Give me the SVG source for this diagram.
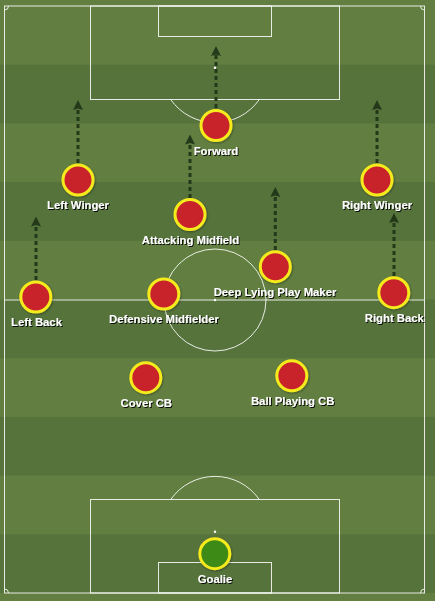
<svg xmlns="http://www.w3.org/2000/svg" width="435" height="601" viewBox="0 0 435 601">
<defs>
<style>
.light{fill:#627f41}
.dark{fill:#56733c}
.ln{fill:none;stroke:#ffffff;stroke-opacity:0.85;stroke-width:1}
.arr{stroke:#24381a;stroke-width:3;stroke-dasharray:4 3;fill:none;marker-end:url(#ah)}
.pl{fill:#c8232c;stroke:#f5ea1e;stroke-width:3;filter:url(#cs)}
.gk{fill:#3e8a16;stroke:#f5ea1e;stroke-width:3;filter:url(#cs)}
.lbl{font-family:"Liberation Sans",Arial,sans-serif;font-weight:bold;font-size:11.3px;fill:#ffffff;text-anchor:middle;filter:url(#ts)}
</style>
<marker id="ah" markerUnits="userSpaceOnUse" viewBox="0 0 10 10" refX="1.5" refY="5" markerWidth="10" markerHeight="11" orient="auto">
<path d="M0,0 L10,5 L0,10 L1.5,5 Z" fill="#24381a"/>
</marker>
<filter id="ts" x="-20%" y="-40%" width="140%" height="180%">
<feDropShadow dx="1" dy="1" stdDeviation="0.4" flood-color="#000000" flood-opacity="0.9"/>
</filter>
<filter id="cs" x="-30%" y="-30%" width="160%" height="160%">
<feDropShadow dx="0.8" dy="1" stdDeviation="0.8" flood-color="#000000" flood-opacity="0.35"/>
</filter>
</defs>
<g id="pitch">
<rect x="0" y="0" width="435" height="601" class="light"/>
<rect x="0" y="64.7" width="435" height="58.7" class="dark"/>
<rect x="0" y="182.1" width="435" height="58.7" class="dark"/>
<rect x="0" y="299.5" width="435" height="58.7" class="dark"/>
<rect x="0" y="416.9" width="435" height="58.7" class="dark"/>
<rect x="0" y="534.3" width="435" height="58.7" class="dark"/>
<rect x="4.5" y="6" width="420" height="587" class="ln"/>
<line x1="4.5" y1="300" x2="424.5" y2="300" class="ln"/>
<circle cx="215" cy="300" r="51" class="ln"/>
<circle cx="215" cy="300" r="1.2" fill="#ffffff"/>
<rect x="90.5" y="6" width="249" height="93.5" class="ln"/>
<rect x="158.5" y="6" width="113" height="30.5" class="ln"/>
<circle cx="215" cy="67.7" r="1.2" fill="#ffffff"/>
<path d="M170.7,99.5 A54,54 0 0 0 259.3,99.5" class="ln"/>
<rect x="90.5" y="499.5" width="249" height="93.5" class="ln"/>
<rect x="158.5" y="562.5" width="113" height="30.5" class="ln"/>
<circle cx="215" cy="531.7" r="1.2" fill="#ffffff"/>
<path d="M170.7,499.5 A54,54 0 0 1 259.3,499.5" class="ln"/>
<path d="M4.5,10 A4,4 0 0 0 8.5,6" class="ln"/>
<path d="M420.5,6 A4,4 0 0 0 424.5,10" class="ln"/>
<path d="M4.5,589 A4,4 0 0 1 8.5,593" class="ln"/>
<path d="M420.5,593 A4,4 0 0 1 424.5,589" class="ln"/>
</g>
<g id="connectors">
<line x1="216" y1="108" x2="216" y2="54.5" class="arr"/>
<line x1="78" y1="163" x2="78" y2="108.5" class="arr"/>
<line x1="377" y1="163" x2="377" y2="108.5" class="arr"/>
<line x1="190" y1="198" x2="190" y2="143" class="arr"/>
<line x1="275.3" y1="250" x2="275.3" y2="195.5" class="arr"/>
<line x1="36" y1="280" x2="36" y2="225" class="arr"/>
<line x1="394" y1="276" x2="394" y2="221.5" class="arr"/>
</g>
<g id="forward"><circle cx="216" cy="125.5" r="15" class="pl"/><text x="216" y="155" class="lbl">Forward</text></g>
<g id="left-winger"><circle cx="78" cy="180" r="15" class="pl"/><text x="78" y="209" class="lbl">Left Winger</text></g>
<g id="right-winger"><circle cx="377" cy="180" r="15" class="pl"/><text x="377" y="209" class="lbl">Right Winger</text></g>
<g id="attacking-midfield"><circle cx="190" cy="214.5" r="15" class="pl"/><text x="190.5" y="244" class="lbl">Attacking Midfield</text></g>
<g id="deep-lying-play-maker"><circle cx="275.3" cy="266.7" r="15" class="pl"/><text x="275" y="296" class="lbl">Deep Lying Play Maker</text></g>
<g id="left-back"><circle cx="35.8" cy="297" r="15" class="pl"/><text x="36.5" y="326" class="lbl">Left Back</text></g>
<g id="defensive-midfielder"><circle cx="163.8" cy="294" r="15" class="pl"/><text x="164" y="323" class="lbl">Defensive Midfielder</text></g>
<g id="right-back"><circle cx="393.8" cy="292.7" r="15" class="pl"/><text x="394.3" y="322" class="lbl">Right Back</text></g>
<g id="cover-cb"><circle cx="145.8" cy="377.7" r="15" class="pl"/><text x="146.3" y="406.5" class="lbl">Cover CB</text></g>
<g id="ball-playing-cb"><circle cx="291.8" cy="375.8" r="15" class="pl"/><text x="292.7" y="405" class="lbl">Ball Playing CB</text></g>
<g id="goalie"><circle cx="214.8" cy="553.7" r="15" class="gk"/><text x="215" y="583" class="lbl">Goalie</text></g>
</svg>
